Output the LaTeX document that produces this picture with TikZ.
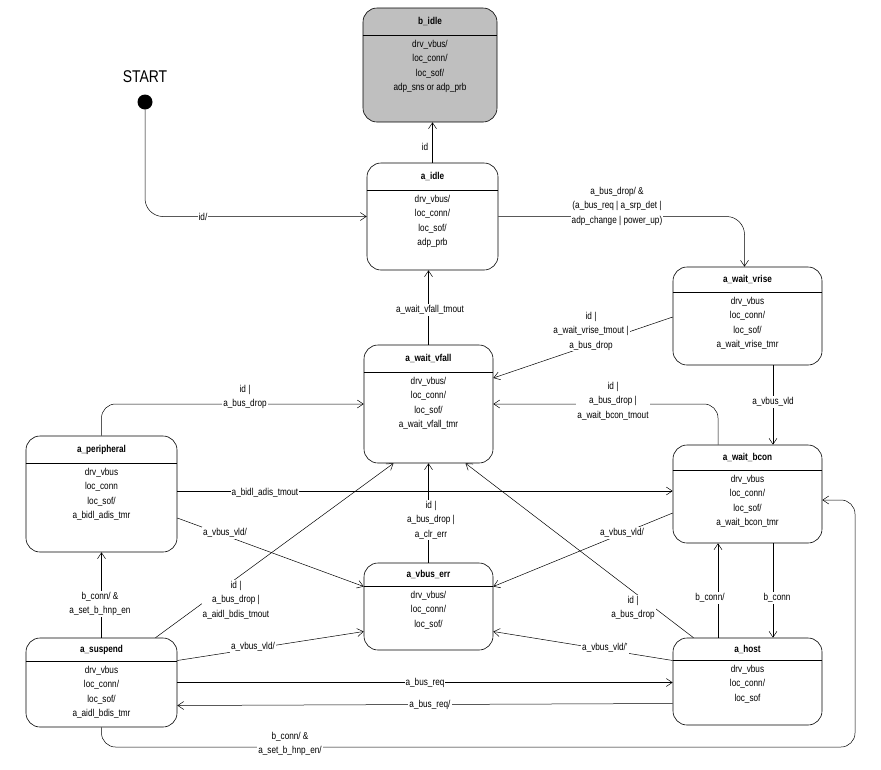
\documentclass[tikz,border=0pt]{standalone}
\usepackage{fontspec}
\setmainfont{Liberation Sans}[FakeStretch=0.82]
\usetikzlibrary{arrows.meta}
\newcommand\st[9]{%
  \pgfmathsetmacro\sttop{#3-#5/2}%
  \pgfmathsetmacro\stdiv{#3-#5/2+#6}%
  \node[state,fill=#9,minimum width=#4pt,minimum height=#5pt] (#1) at (#2,#3) {};
  \draw ([yshift=-#6pt]#1.north west) -- ([yshift=-#6pt]#1.north east);
  \node[font=\bfseries,inner sep=0] at (#2,{(\sttop+\stdiv)/2}) {#7};
  \node[anchor=north,align=center,inner sep=0] at (#2,\stdiv+5) {#8};
}
\begin{document}
\begin{tikzpicture}[x=1pt,y=-1pt,font=\fontsize{10}{14.5}\selectfont,
  state/.style={draw,rounded corners=14pt,line width=0.6pt,inner sep=0},
  tr/.style={draw,line width=0.5pt,-{Straight Barb[length=6pt,width=8pt]}},
  lab/.style={fill=white,inner sep=1pt,align=center}]
\useasboundingbox (0,0) rectangle (881,769);
\st{bidle}{430}{65}{134}{114}{27}{b\_idle}{drv\_vbus/\\loc\_conn/\\loc\_sof/\\adp\_sns or adp\_prb}{black!25}
\st{aidle}{432.5}{216.5}{131}{107}{27}{a\_idle}{drv\_vbus/\\loc\_conn/\\loc\_sof/\\adp\_prb}{white}
\st{vrise}{747.5}{316}{149}{98}{25}{a\_wait\_vrise}{drv\_vbus\\loc\_conn/\\loc\_sof/\\a\_wait\_vrise\_tmr}{white}
\st{vfall}{428.5}{404}{129}{118}{27}{a\_wait\_vfall}{drv\_vbus/\\loc\_conn/\\loc\_sof/\\a\_wait\_vfall\_tmr}{white}
\st{periph}{101.5}{494}{151}{116}{27}{a\_peripheral}{drv\_vbus\\loc\_conn\\loc\_sof/\\a\_bidl\_adis\_tmr}{white}
\st{bcon}{747.5}{494}{149}{98}{25}{a\_wait\_bcon}{drv\_vbus\\loc\_conn/\\loc\_sof/\\a\_wait\_bcon\_tmr}{white}
\st{verr}{428.5}{606.5}{129}{87}{23}{a\_vbus\_err}{drv\_vbus/\\loc\_conn/\\loc\_sof/}{white}
\st{susp}{101.5}{682.5}{151}{89}{23}{a\_suspend}{drv\_vbus\\loc\_conn/\\loc\_sof/\\a\_aidl\_bdis\_tmr}{white}
\st{host}{747.5}{681.5}{149}{87}{22}{a\_host}{drv\_vbus\\loc\_conn/\\loc\_sof}{white}
\node[font=\fontsize{17}{17}\selectfont] (start) at (145,77) {START};
\node[circle,fill=black,minimum size=15pt,inner sep=0] (dot) at (145,102) {};
\coordinate (c22) at (855,747);
% connectors
\draw[tr,rounded corners=18pt] (dot) |- (aidle.west);
\draw[tr] (aidle.north) -- (aidle.north |- bidle.south);
\draw[tr,rounded corners=18pt] (aidle.east) -| ([xshift=-3pt]vrise.north);
\draw[tr] (vfall.north) -- (vfall.north |- aidle.south);
\draw[tr] ([yshift=-1pt]vrise.west) -- ([yshift=26pt]vfall.east);
\draw[tr] ([xshift=25.5pt]vrise.south) -- ([xshift=25.5pt]bcon.north);
\draw[tr,rounded corners=14pt] (periph.north) |- (vfall.west);
\draw[tr,rounded corners=14pt] ([xshift=-29.5pt]bcon.north) |- (vfall.east);
\draw[tr] ([yshift=3pt]periph.east) -- ([yshift=3pt]bcon.west);
\draw[tr] ([yshift=-24pt]periph.east) -- ([yshift=20pt]verr.west);
\draw[tr] (verr.north) -- (vfall.south);
\draw[tr] ([yshift=-19pt]bcon.west) -- ([yshift=20pt]verr.east);
\draw[tr] ([xshift=54pt]susp.north) -- ([xshift=-35pt]vfall.south);
\draw[tr] ([xshift=-54pt]host.north) -- ([xshift=37pt]vfall.south);
\draw[tr] ([xshift=-29.5pt]host.north) -- ([xshift=-29.5pt]bcon.south);
\draw[tr] ([xshift=25.5pt]bcon.south) -- ([xshift=25.5pt]host.north);
\draw[tr] (susp.north) -- (periph.south);
\draw[tr] ([yshift=22pt]susp.east) -- ([yshift=-25pt]verr.west);
\draw[tr] ([yshift=21pt]host.west) -- ([yshift=-25pt]verr.east);
\draw[tr] (susp.east) -- ([yshift=-1pt]host.west);
\draw[tr] ([yshift=-22pt]host.west) -- ([yshift=-23pt]susp.east);
\draw[tr,rounded corners=14pt] (susp.south) |- (c22) |- ([yshift=-6pt]bcon.east);
% labels
\node[lab] (l1) at (203,217) {id/};
\node[lab] (l2) at (425,147) {id};
\node[lab] (l3) at (617,206) {a\_bus\_drop/ \&\\(a\_bus\_req | a\_srp\_det |\\adp\_change | power\_up)};
\node[lab] (l4) at (430,310) {a\_wait\_vfall\_tmout};
\node[lab] (l5) at (591,331) {id |\\a\_wait\_vrise\_tmout |\\a\_bus\_drop};
\node[lab] (l6) at (773,402) {a\_vbus\_vld};
\node[lab] (l7) at (245,397) {id |\\a\_bus\_drop};
\node[lab] (l8) at (613,401) {id |\\a\_bus\_drop |\\a\_wait\_bcon\_tmout};
\node[lab] (l9) at (265,493) {a\_bidl\_adis\_tmout};
\node[lab] (l10) at (225,533) {a\_vbus\_vld/};
\node[lab] (l11) at (431,520) {id |\\a\_bus\_drop |\\a\_clr\_err};
\node[lab] (l12) at (622,533) {a\_vbus\_vld/};
\node[lab] (l13) at (236,600) {id |\\a\_bus\_drop |\\a\_aidl\_bdis\_tmout};
\node[lab] (l14) at (633,608) {id |\\a\_bus\_drop};
\node[lab] (l15) at (710,598) {b\_conn/};
\node[lab] (l16) at (777,598) {b\_conn};
\node[lab] (l17) at (100,604) {b\_conn/ \&\\a\_set\_b\_hnp\_en};
\node[lab] (l18) at (253,647) {a\_vbus\_vld/};
\node[lab] (l19) at (605,648) {a\_vbus\_vld/'};
\node[lab] (l20) at (425,683) {a\_bus\_req};
\node[lab] (l21) at (430,705) {a\_bus\_req/};
\node[lab] (l22) at (290,744) {b\_conn/ \&\\a\_set\_b\_hnp\_en/};
\end{tikzpicture}
\end{document}
